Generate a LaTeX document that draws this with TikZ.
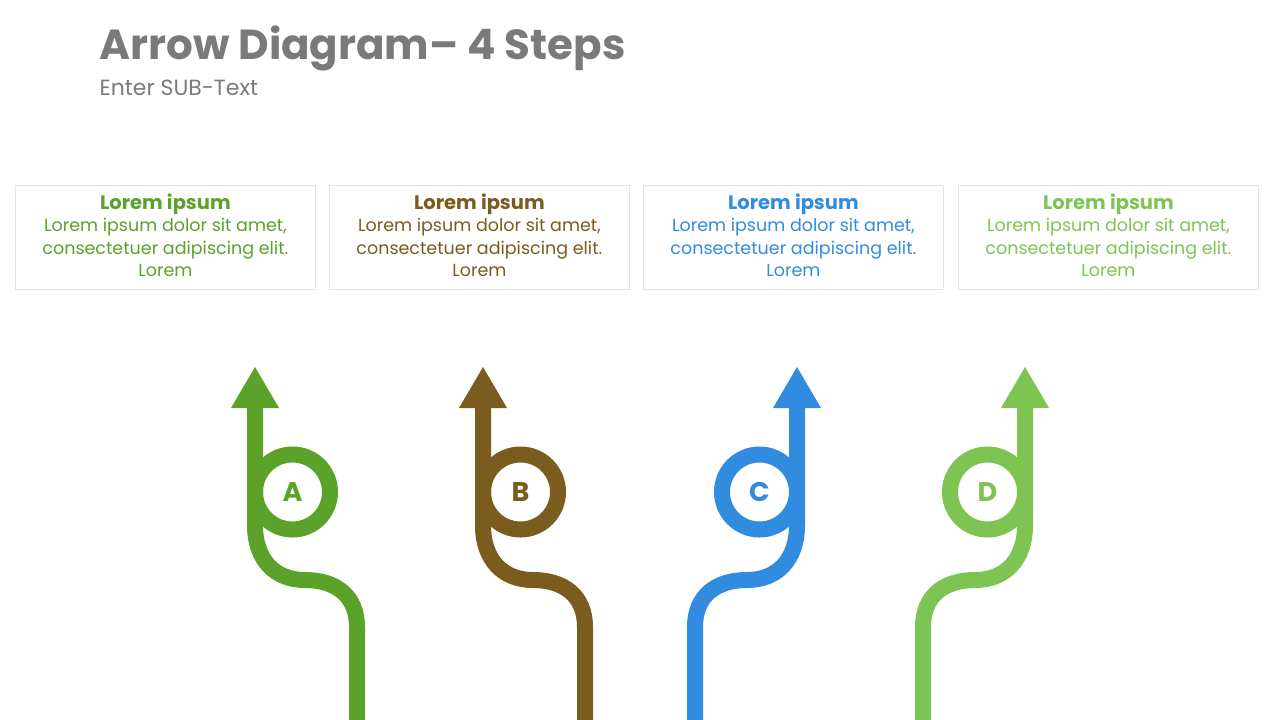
\documentclass[tikz,border=0pt]{standalone}
\usepackage{fontspec}
\setmainfont{Poppins}
\definecolor{cA}{HTML}{5BA22B}
\definecolor{cB}{HTML}{7A5C1E}
\definecolor{cC}{HTML}{318CE0}
\definecolor{cD}{HTML}{7DC452}
\definecolor{tgrey}{HTML}{7A7A7A}
\begin{document}
\begin{tikzpicture}[x=1pt,y=-1pt,
  infobox/.style={draw=black!10,line width=0.8pt,minimum width=300pt,minimum height=104pt,anchor=north west,inner sep=0pt},
  band/.style={line width=16pt},
  letter/.style={font=\bfseries\fontsize{27}{30}\selectfont}]
\useasboundingbox (0,0) rectangle (1280,720);
\node[anchor=west,text=tgrey,font=\bfseries\fontsize{42}{46}\selectfont] (title) at (96,48) {Arrow Diagram– 4 Steps};
\node[anchor=west,text=tgrey,font=\fontsize{22}{26}\selectfont] (sub) at (96,88) {Enter SUB-Text};
\foreach \bx/\col [count=\i] in {15/cA,329/cB,643/cC,958/cD}{
  \node[infobox] (box\i) at (\bx,185) {};
  \node[text=\col,align=center,font=\fontsize{17.5}{22.5}\selectfont,anchor=north] (t\i) at ([yshift=-5pt]box\i.north)
   {{\bfseries\fontsize{19.5}{22.5}\selectfont Lorem ipsum}\\Lorem ipsum dolor sit amet,\\consectetuer adipiscing elit.\\Lorem};
}
% arrows: stem x, direction s (+1 circle to right, bottom to right), colour, letter
\foreach \sx/\s/\col/\L [count=\i] in {255/1/cA/A,483/1/cB/B,797/-1/cC/C,1025/-1/cD/D}{
  \draw[band,\col] (\sx+\s*102,722) -- (\sx+\s*102,627)
     .. controls (\sx+\s*102,595) and (\sx+\s*80,580) .. (\sx+\s*50,580)
     .. controls (\sx+\s*20,580) and (\sx,560) .. (\sx,525) -- (\sx,405);
  \fill[\col] (\sx,367) -- (\sx-24,408) -- (\sx+24,408) -- cycle;
  \draw[band,\col] (\sx+\s*37.5,492) circle (37.5);
  \node[letter,text=\col] (l\i) at (\sx+\s*37.5,492) {\L};
}
\end{tikzpicture}
\end{document}
